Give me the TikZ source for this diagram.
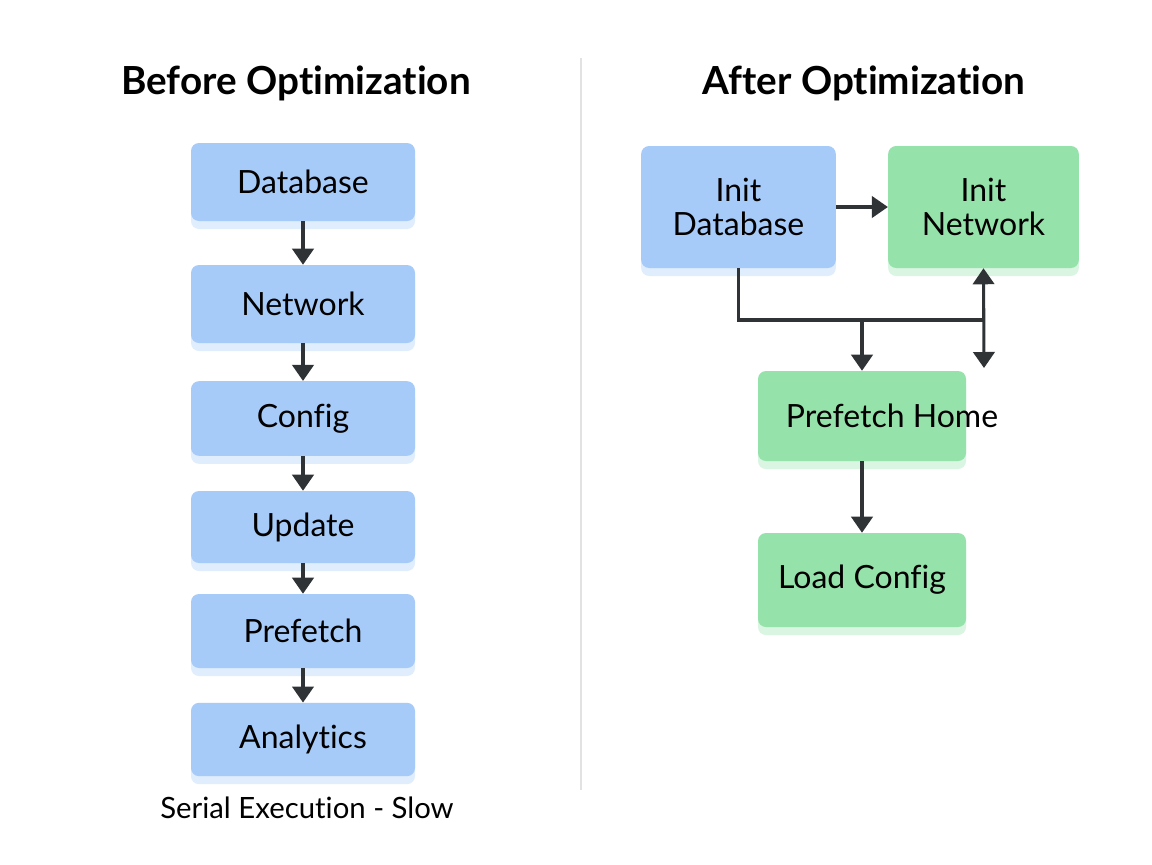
\documentclass[tikz,border=0pt]{standalone}
\usepackage{fontspec}
\setmainfont[Ligatures=NoCommon]{Lato}
\usetikzlibrary{arrows.meta,shadows}
\definecolor{bluefill}{HTML}{A7CBF8}
\definecolor{greenfill}{HTML}{95E2AA}
\definecolor{arrowc}{HTML}{2F3336}
\definecolor{divc}{HTML}{E2E2E2}
\tikzset{
  boxb/.style={fill=bluefill, rounded corners=6pt, inner sep=0pt,
    general shadow={shadow yshift=-6pt, fill=bluefill!35}},
  boxg/.style={fill=greenfill, rounded corners=6pt, inner sep=0pt,
    general shadow={shadow yshift=-6pt, fill=greenfill!35}},
  lbl/.style={font=\fontsize{24}{26}\selectfont, text=black, align=center},
  ttl/.style={font=\bfseries\fontsize{29}{34}\selectfont},
  conn/.style={draw=arrowc, line width=2.3pt},
  arr/.style={conn, -{Triangle[length=12pt,width=16pt]}},
  darr/.style={conn, {Triangle[length=12pt,width=16pt]}-{Triangle[length=12pt,width=16pt]}},
}
\begin{document}
\begin{tikzpicture}[x=0.75pt,y=-0.75pt]
\useasboundingbox[fill=white] (0,0) rectangle (1152,864);
% titles
\node[ttl] (t1) at (296,83) {Before Optimization};
\node[ttl] (t2) at (864,83) {After Optimization};
% divider
\coordinate (dtop) at (581,58);
\coordinate (dbot) at (581,790);
\draw[divc, line width=1pt] (dtop) -- (dbot);
% left column
\node[boxb, minimum width=168pt, minimum height=58.5pt, lbl] (a1) at (303,182) {Database};
\node[boxb, minimum width=168pt, minimum height=58.5pt, lbl] (a2) at (303,304) {Network};
\node[boxb, minimum width=168pt, minimum height=56pt, lbl] (a3) at (303,418.5) {Config};
\node[boxb, minimum width=168pt, minimum height=54pt, lbl] (a4) at (303,527) {Update};
\node[boxb, minimum width=168pt, minimum height=55.5pt, lbl] (a5) at (303,631) {Prefetch};
\node[boxb, minimum width=168pt, minimum height=55pt, lbl] (a6) at (303,739.5) {Analytics};
\draw[arr] (a1) -- (a2);
\draw[arr] (a2) -- (a3);
\draw[arr] (a3) -- (a4);
\draw[arr] (a4) -- (a5);
\draw[arr] (a5) -- (a6);
\node[lbl, font=\fontsize{22}{26}\selectfont] (cap) at (307,808) {Serial Execution - Slow};
% right side
\node[boxb, minimum width=146pt, minimum height=91.5pt, lbl] (b1) at (738.5,207) {Init\\Database};
\node[boxg, minimum width=143pt, minimum height=91.5pt, lbl] (b2) at (983.5,207) {Init\\Network};
\node[boxg, minimum width=156pt, minimum height=67.5pt] (b3) at (862,416) {};
\node[lbl] (b3t) at (892,416) {Prefetch Home};
\node[boxg, minimum width=156pt, minimum height=70.5pt, lbl] (b4) at (862,580) {Load Config};
\coordinate (j) at (984,320);
\coordinate (jd) at (984,368);
\draw[arr] (b1.east) -- (b2.west);
\draw[conn] (b1.south) -- (b1.south |- j) -- (j);
\draw[arr] (b3.north |- j) -- (b3.north);
\draw[darr] (b2.south) -- (jd);
\draw[arr] (b3) -- (b4);
\end{tikzpicture}
\end{document}
